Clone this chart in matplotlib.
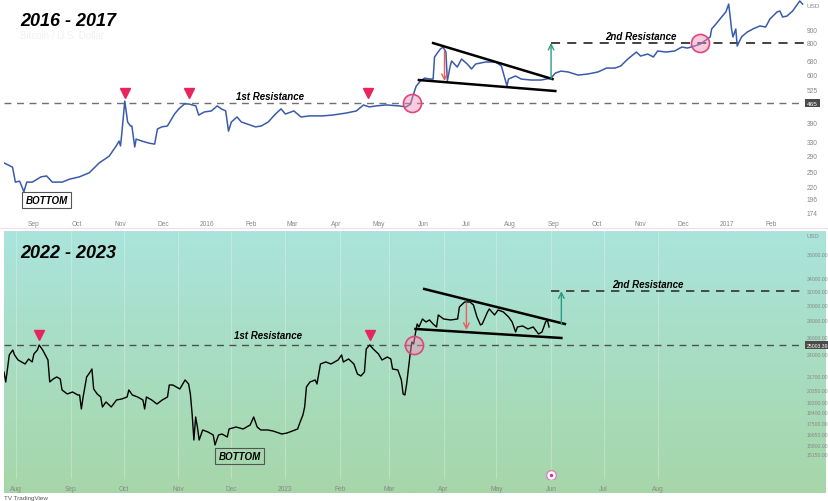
import numpy as np
import pandas as pd
import matplotlib
matplotlib.use("Agg")
import matplotlib.pyplot as plt
import matplotlib.dates as mdates
import matplotlib.transforms as mtrans
from matplotlib.ticker import FixedLocator, NullLocator, FuncFormatter

plt.rcParams['font.family'] = ['Liberation Sans', 'DejaVu Sans']

# ---- data ----
# 2016 - 2017 panel (BTC/USD, blue line)
top_dates = ["2015-08-11", "2015-08-17", "2015-08-19", "2015-08-22", "2015-08-25", "2015-08-27",
             "2015-08-31", "2015-09-06", "2015-09-10", "2015-09-14", "2015-09-21", "2015-09-26",
             "2015-10-03", "2015-10-10", "2015-10-17", "2015-10-24", "2015-10-29", "2015-10-31",
             "2015-11-01", "2015-11-02", "2015-11-04", "2015-11-06", "2015-11-08", "2015-11-09",
             "2015-11-11", "2015-11-12", "2015-11-16", "2015-11-21", "2015-11-25", "2015-11-27",
             "2015-11-30", "2015-12-04", "2015-12-07", "2015-12-09", "2015-12-12", "2015-12-16",
             "2015-12-19", "2015-12-24", "2015-12-26", "2015-12-30", "2016-01-04", "2016-01-08",
             "2016-01-11", "2016-01-14", "2016-01-16", "2016-01-18", "2016-01-22", "2016-01-25",
             "2016-01-29", "2016-02-04", "2016-02-08", "2016-02-13", "2016-02-18", "2016-02-22",
             "2016-02-25", "2016-03-02", "2016-03-07", "2016-03-13", "2016-03-22", "2016-03-29",
             "2016-04-08", "2016-04-15", "2016-04-20", "2016-04-24", "2016-04-29", "2016-05-06",
             "2016-05-15", "2016-05-20", "2016-05-23", "2016-05-25", "2016-05-27", "2016-05-30",
             "2016-06-02", "2016-06-06", "2016-06-08", "2016-06-09", "2016-06-13", "2016-06-15",
             "2016-06-17", "2016-06-18", "2016-06-20", "2016-06-21", "2016-06-25", "2016-06-28",
             "2016-07-02", "2016-07-05", "2016-07-08", "2016-07-15", "2016-07-22", "2016-07-26",
             "2016-07-30", "2016-07-31", "2016-08-05", "2016-08-09", "2016-08-16", "2016-08-23",
             "2016-08-30", "2016-09-02", "2016-09-06", "2016-09-11", "2016-09-18", "2016-09-25",
             "2016-10-02", "2016-10-08", "2016-10-14", "2016-10-18", "2016-10-23", "2016-10-29",
             "2016-11-01", "2016-11-06", "2016-11-10", "2016-11-13", "2016-11-19", "2016-11-25",
             "2016-11-30", "2016-12-04", "2016-12-09", "2016-12-13", "2016-12-20", "2016-12-21",
             "2016-12-24", "2016-12-28", "2016-12-31", "2017-01-02", "2017-01-03", "2017-01-04",
             "2017-01-05", "2017-01-07", "2017-01-08", "2017-01-11", "2017-01-15", "2017-01-19",
             "2017-01-24", "2017-01-28", "2017-01-31", "2017-02-05", "2017-02-07", "2017-02-09",
             "2017-02-12", "2017-02-16", "2017-02-21", "2017-02-23"]
top_prices = [271, 261, 228, 230, 209, 228,
              228, 239, 241, 228, 228, 234,
              239, 248, 271, 288, 316, 330,
              316, 358, 473, 392, 378, 378,
              313, 336, 330, 324, 321, 368,
              375, 378, 403, 421, 441, 461,
              461, 453, 417, 429, 433, 453,
              441, 433, 361, 392, 410, 392,
              385, 375, 378, 392, 421, 441,
              421, 433, 410, 414, 414, 417,
              425, 433, 457, 449, 453, 457,
              453, 449, 460, 500, 540, 567,
              582, 577, 577, 704, 756, 770,
              736, 567, 649, 679, 643, 691,
              661, 632, 661, 673, 673, 649,
              542, 577, 593, 577, 572, 572,
              582, 609, 620, 615, 598, 604,
              615, 637, 637, 649, 691, 736,
              710, 723, 704, 743, 736, 743,
              770, 763, 777, 791, 843, 906,
              947, 1009, 1056, 1134, 1018, 906,
              843, 906, 777, 843, 881, 906,
              931, 922, 991, 1056, 1065, 1009,
              1018, 1065, 1166, 1134]

# 2022 - 2023 panel (BTC/USD, black line)
bot_dates = ["2022-07-25", "2022-07-26", "2022-07-28", "2022-07-30", "2022-07-31", "2022-08-02",
             "2022-08-04", "2022-08-06", "2022-08-08", "2022-08-10", "2022-08-11", "2022-08-13",
             "2022-08-14", "2022-08-16", "2022-08-19", "2022-08-20", "2022-08-22", "2022-08-24",
             "2022-08-26", "2022-08-27", "2022-08-30", "2022-09-02", "2022-09-05", "2022-09-06",
             "2022-09-07", "2022-09-08", "2022-09-10", "2022-09-12", "2022-09-13", "2022-09-14",
             "2022-09-16", "2022-09-18", "2022-09-19", "2022-09-21", "2022-09-24", "2022-09-27",
             "2022-09-30", "2022-10-03", "2022-10-04", "2022-10-06", "2022-10-09", "2022-10-12",
             "2022-10-13", "2022-10-14", "2022-10-17", "2022-10-20", "2022-10-23", "2022-10-26",
             "2022-10-27", "2022-10-29", "2022-11-02", "2022-11-05", "2022-11-07", "2022-11-08",
             "2022-11-09", "2022-11-10", "2022-11-11", "2022-11-12", "2022-11-13", "2022-11-15",
             "2022-11-18", "2022-11-21", "2022-11-22", "2022-11-24", "2022-11-26", "2022-11-29",
             "2022-11-30", "2022-12-04", "2022-12-08", "2022-12-12", "2022-12-14", "2022-12-16",
             "2022-12-18", "2022-12-22", "2022-12-25", "2022-12-30", "2023-01-02", "2023-01-05",
             "2023-01-08", "2023-01-09", "2023-01-11", "2023-01-12", "2023-01-13", "2023-01-15",
             "2023-01-18", "2023-01-19", "2023-01-21", "2023-01-24", "2023-01-27", "2023-01-31",
             "2023-02-02", "2023-02-03", "2023-02-06", "2023-02-09", "2023-02-11", "2023-02-13",
             "2023-02-15", "2023-02-16", "2023-02-18", "2023-02-20", "2023-02-23", "2023-02-25",
             "2023-02-28", "2023-03-02", "2023-03-03", "2023-03-06", "2023-03-08", "2023-03-09",
             "2023-03-10", "2023-03-11", "2023-03-13", "2023-03-14", "2023-03-15", "2023-03-16",
             "2023-03-17", "2023-03-18", "2023-03-20", "2023-03-22", "2023-03-24", "2023-03-26",
             "2023-03-28", "2023-03-29", "2023-04-01", "2023-04-05", "2023-04-09", "2023-04-10",
             "2023-04-13", "2023-04-16", "2023-04-18", "2023-04-20", "2023-04-22", "2023-04-23",
             "2023-04-26", "2023-04-27", "2023-04-30", "2023-05-02", "2023-05-05", "2023-05-08",
             "2023-05-10", "2023-05-12", "2023-05-13", "2023-05-16", "2023-05-19", "2023-05-22",
             "2023-05-25", "2023-05-27", "2023-05-29", "2023-05-30", "2023-05-31"]
bot_prices = [22096, 21108, 23890, 24443, 23890, 23348,
              23137, 22925, 23455, 23137, 24000, 24443,
              25012, 24443, 23348, 21108, 21401, 21598,
              21401, 20347, 19977, 20161, 19885, 19885,
              18648, 19703, 21598, 22096, 22404, 20441,
              19977, 19703, 18821, 19258, 18821, 19436,
              19525, 19703, 20347, 19885, 19703, 19436,
              18648, 19703, 19436, 19080, 19436, 19703,
              20818, 20818, 20441, 21302, 20913, 19977,
              18226, 16175, 17976, 17170, 16175, 16937,
              16781, 16552, 15811, 16552, 16628, 16401,
              17014, 17170, 17014, 17328, 17976, 17170,
              16937, 16937, 16858, 16628, 16704, 16858,
              17014, 17410, 18142, 18821, 20628, 21108,
              21302, 20913, 22925, 23137, 22925, 23348,
              23890, 23137, 23455, 22925, 21897, 21696,
              22096, 24557, 25012, 24557, 24000, 23348,
              23672, 23455, 22404, 22301, 21302, 19977,
              19885, 20913, 24000, 25360, 25128, 26400,
              27541, 27165, 28180, 27795, 28051, 27541,
              27165, 28702, 28180, 28051, 28180, 29774,
              30464, 30464, 30048, 28440, 27416, 27541,
              29100, 29503, 28702, 29367, 29100, 28440,
              27795, 26549, 27165, 27288, 26916, 27165,
              26305, 26549, 27795, 28051, 27165]

# axis ticks (right price scale, bottom month labels)
top_yticks = [174, 196, 220, 250, 290, 330, 390, 525, 600, 680, 800, 900]
bot_yticks = [15150, 15800, 16650, 17500, 18400, 19300, 20350, 21700, 24000,
              26000, 28000, 30000, 32000, 34000, 38000]
top_months = pd.date_range("2015-09-01", "2017-02-01", freq="MS")
bot_months = pd.date_range("2022-08-01", "2023-08-01", freq="MS")

# resistance levels and annotation anchors
top_res1, top_res2 = 465, 800
bot_res1, bot_res2 = 25003.39, 32000
top_peaks = ["2015-11-04", "2015-12-19", "2016-04-23"]
bot_peaks = ["2022-08-14", "2023-02-18"]

W, H = 829, 502
fig = plt.figure(figsize=(W / 100, H / 100), dpi=100)


def px_box(x0, y0, x1, y1):
    return [x0 / W, 1 - y1 / H, (x1 - x0) / W, (y1 - y0) / H]


def d(s):
    return pd.Timestamp(s)


def month_fmt(x, pos):
    dt = mdates.num2date(x)
    return str(dt.year) if dt.month == 1 else dt.strftime("%b")


def style_axes(ax, yticks, fmt, months, ysize):
    ax.set_yscale("log")
    ax.yaxis.set_ticks_position("right")
    ax.yaxis.set_major_locator(FixedLocator(yticks))
    ax.yaxis.set_minor_locator(NullLocator())
    ax.yaxis.set_major_formatter(FuncFormatter(lambda v, p: fmt.format(v)))
    ax.xaxis.set_major_locator(FixedLocator(mdates.date2num(months)))
    ax.xaxis.set_major_formatter(FuncFormatter(month_fmt))
    ax.tick_params(axis="both", length=0, labelcolor="#888888")
    ax.tick_params(axis="x", labelsize=4.8, pad=3)
    ax.tick_params(axis="y", labelsize=ysize, pad=2)
    for s in ax.spines.values():
        s.set_visible(False)


tv_pink = "#e8245e"
bold_it = dict(fontweight="bold", style="italic")

# ================= TOP PANEL =================
ax1 = fig.add_axes(px_box(4, 0, 804, 217))
ax1.set_facecolor("white")
ax1.plot(pd.to_datetime(top_dates), top_prices, color="#3a5ba9", lw=1.1, zorder=3)
style_axes(ax1, top_yticks, "{:.0f}", top_months, 4.8)
ax1.set_xlim(d("2015-08-11"), d("2017-02-24"))
ax1.set_ylim(168, 1187)

ax1.axhline(top_res1, ls=(0, (5, 4)), color="#707070", lw=1.0, zorder=2)
ax1.hlines(top_res2, d("2016-08-30"), d("2017-02-24"), ls=(0, (5, 4)), color="#333333", lw=1.3, zorder=2)
ax1.plot(pd.to_datetime(top_peaks), [509] * 3, ls="none", marker="v", ms=7, color=tv_pink, zorder=4)
ax1.text(d("2016-02-14"), 497, "1st Resistance", fontsize=7, ha="center", va="center", **bold_it)
ax1.text(d("2016-11-01"), 852, "2nd Resistance", fontsize=7, ha="center", va="center", **bold_it)

# breakout circles
for cx, cy in [("2016-05-24", top_res1), ("2016-12-13", top_res2)]:
    ax1.plot(d(cx), cy, marker="o", ms=13, mfc=(0.96, 0.55, 0.70, 0.45), mec="#e0457b", mew=1.2, zorder=5)

# wedge
ax1.plot([d("2016-06-08"), d("2016-08-31")], [798, 577], color="black", lw=1.8, zorder=4)
ax1.plot([d("2016-05-29"), d("2016-09-02")], [572, 518], color="black", lw=1.8, zorder=4)
ax1.annotate("", xy=(d("2016-06-16"), 567), xytext=(d("2016-06-16"), 743),
             arrowprops=dict(arrowstyle="->", color="#ef5b5b", lw=1.0, shrinkA=0, shrinkB=0), zorder=5)
ax1.annotate("", xy=(d("2016-08-30"), top_res2), xytext=(d("2016-08-30"), 577),
             arrowprops=dict(arrowstyle="->", color="#2f9c80", lw=1.0, shrinkA=0, shrinkB=0), zorder=5)

ax1.text(d("2015-09-10"), 194, "BOTTOM", fontsize=7, ha="center", va="center", **bold_it,
         bbox=dict(boxstyle="square,pad=0.35", fc="white", ec="#555555", lw=0.8))

tr1 = mtrans.blended_transform_factory(ax1.transAxes, ax1.transData)
ax1.text(1.0035, top_res1, "465", transform=tr1, fontsize=4.6, color="white", va="center", ha="left",
         bbox=dict(boxstyle="square,pad=0.3", fc="#4a4a4a", ec="none"))
fig.text(807 / W, 1 - 6 / H, "USD", fontsize=4.6, color="#888888", va="center")

fig.text(20 / W, 1 - 21 / H, "2016 - 2017", fontsize=13, va="center", **bold_it)
fig.text(20 / W, 1 - 36 / H, "Bitcoin / U.S. Dollar", fontsize=7, color="#f0f0f0", va="center")

# faint separator
fig.add_artist(plt.Line2D([0, 1], [1 - 229 / H, 1 - 229 / H], color="#f6dde3", lw=0.8))

# ================= BOTTOM PANEL =================
bg = fig.add_axes(px_box(4, 232, 826, 494))
grad = np.linspace(0, 1, 256)[:, None]
c_top = np.array([170, 228, 220]) / 255
c_bot = np.array([166, 214, 168]) / 255
img = c_top[None, None, :] * (1 - grad[:, :, None]) + c_bot[None, None, :] * grad[:, :, None]
bg.imshow(img, aspect="auto", extent=[0, 1, 0, 1], origin="upper")
bg.set_axis_off()

ax2 = fig.add_axes(px_box(4, 232, 804, 480))
ax2.patch.set_alpha(0)
ax2.plot(pd.to_datetime(bot_dates), bot_prices, color="black", lw=1.0, zorder=3)
style_axes(ax2, bot_yticks, "{:.2f}", bot_months, 3.7)
ax2.set_xlim(d("2022-07-25"), d("2023-10-23"))
ax2.set_ylim(13527, 42185)
ax2.grid(axis="x", color="white", alpha=0.25, lw=0.8)
ax2.tick_params(axis="x", pad=4)

ax2.axhline(bot_res1, ls=(0, (5, 4)), color="#505050", lw=1.0, zorder=2)
ax2.hlines(bot_res2, d("2023-06-01"), d("2023-10-23"), ls=(0, (5, 4)), color="#333333", lw=1.2, zorder=2)
ax2.plot(pd.to_datetime(bot_peaks), [26186] * 2, ls="none", marker="v", ms=7, color=tv_pink, zorder=4)
ax2.text(d("2022-12-22"), 26186, "1st Resistance", fontsize=7, ha="center", va="center", **bold_it)
ax2.text(d("2023-07-26"), 33090, "2nd Resistance", fontsize=7, ha="center", va="center", **bold_it)
ax2.plot(d("2023-03-15"), bot_res1, marker="o", ms=13, mfc=(0.96, 0.55, 0.70, 0.45), mec="#e0457b",
         mew=1.2, zorder=5)

ax2.plot([d("2023-03-21"), d("2023-06-09")], [32335, 27541], color="black", lw=1.8, zorder=4)
ax2.plot([d("2023-03-16"), d("2023-06-07")], [26916, 25828], color="black", lw=1.8, zorder=4)
ax2.annotate("", xy=(d("2023-04-14"), 26793), xytext=(d("2023-04-14"), 30326),
             arrowprops=dict(arrowstyle="->", color="#ef5b5b", lw=1.0, shrinkA=0, shrinkB=0), zorder=5)
ax2.annotate("", xy=(d("2023-06-07"), bot_res2), xytext=(d("2023-06-07"), 27541),
             arrowprops=dict(arrowstyle="->", color="#2a9c86", lw=1.0, shrinkA=0, shrinkB=0), zorder=5)

ax2.text(d("2022-12-06"), 15031, "BOTTOM", fontsize=7, ha="center", va="center", **bold_it,
         bbox=dict(boxstyle="square,pad=0.35", fc="none", ec="#555555", lw=0.8))

# small event icon
ax2.plot(d("2023-06-01"), 13779, marker="o", ms=7, mfc="white", mec="#d884c4", mew=1.0, zorder=5)
ax2.plot(d("2023-06-01"), 13779, marker="o", ms=2.5, mfc="#c0408a", mec="none", zorder=6)

tr2 = mtrans.blended_transform_factory(ax2.transAxes, ax2.transData)
ax2.text(1.003, bot_res1, "25003.39", transform=tr2, fontsize=3.7, color="white", va="center", ha="left",
         bbox=dict(boxstyle="square,pad=0.3", fc="#4a4a4a", ec="none"))
fig.text(807 / W, 1 - 237 / H, "USD", fontsize=4.2, color="#888888", va="center")

fig.text(20 / W, 1 - 253 / H, "2022 - 2023", fontsize=13, va="center", **bold_it)

fig.text(4 / W, 1 - 499 / H, "TV TradingView", fontsize=4.5, color="#555555", va="center")

fig.savefig("out.png", dpi=100)
